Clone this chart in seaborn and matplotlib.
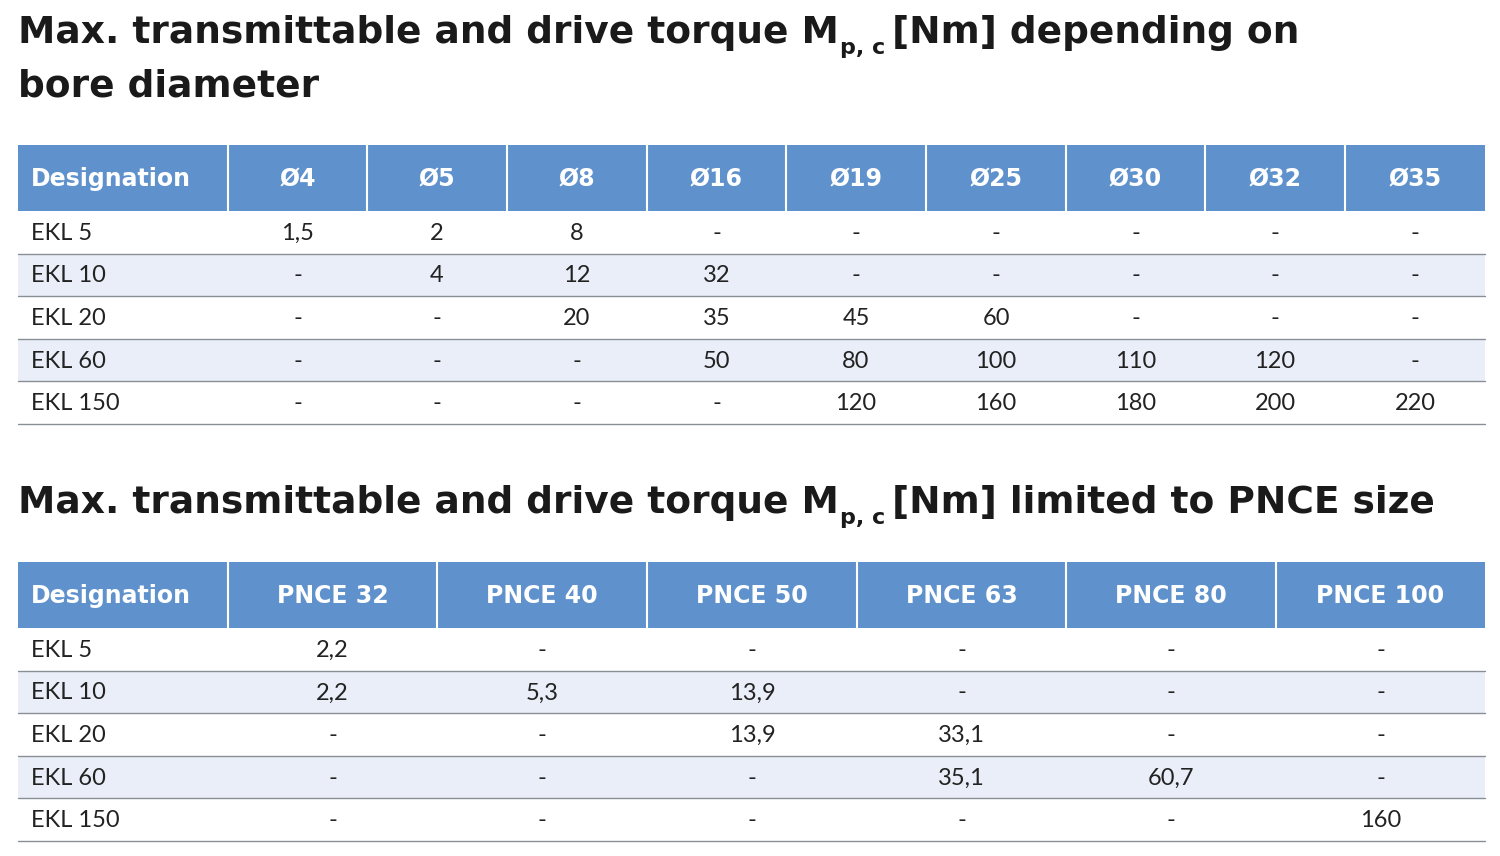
import matplotlib
matplotlib.use("Agg")
import matplotlib.pyplot as plt
import seaborn as sns
from matplotlib.patches import Rectangle

# --- data ---
rows = ["EKL 5", "EKL 10", "EKL 20", "EKL 60", "EKL 150"]
bores = ["Ø4", "Ø5", "Ø8", "Ø16", "Ø19", "Ø25", "Ø30", "Ø32", "Ø35"]
torque_bore = [
    ["1,5", "2", "8", "-", "-", "-", "-", "-", "-"],
    ["-", "4", "12", "32", "-", "-", "-", "-", "-"],
    ["-", "-", "20", "35", "45", "60", "-", "-", "-"],
    ["-", "-", "-", "50", "80", "100", "110", "120", "-"],
    ["-", "-", "-", "-", "120", "160", "180", "200", "220"],
]
sizes = ["PNCE 32", "PNCE 40", "PNCE 50", "PNCE 63", "PNCE 80", "PNCE 100"]
torque_size = [
    ["2,2", "-", "-", "-", "-", "-"],
    ["2,2", "5,3", "13,9", "-", "-", "-"],
    ["-", "-", "13,9", "33,1", "-", "-"],
    ["-", "-", "-", "35,1", "60,7", "-"],
    ["-", "-", "-", "-", "-", "160"],
]

HEAD = "#5f92cc"
STRIPE = "#e9eef8"
LINE = "#8a8f96"
TXT = "#222222"
BOLD = ['DejaVu Sans']

sns.set_style("white")
plt.rcParams['font.family'] = ['Lato', 'DejaVu Sans']

fig = plt.figure(figsize=(15, 8.56), dpi=100)
ax = fig.add_axes([0, 0, 1, 1])
ax.set_xlim(0, 1500)
ax.set_ylim(856, 0)
ax.axis("off")
renderer = fig.canvas.get_renderer()


def title(y, before, after):
    t = ax.text(18, y, before, fontsize=27, fontweight="bold", family=BOLD,
                va="center", color="#1a1a1a")
    x = t.get_window_extent(renderer).x1 + 1
    s = ax.text(x, y + 15, "p, c", fontsize=16, fontweight="bold", family=BOLD,
                va="center", color="#1a1a1a")
    x = s.get_window_extent(renderer).x1 + 7
    ax.text(x, y, after, fontsize=27, fontweight="bold", family=BOLD,
            va="center", color="#1a1a1a")


def table(top, edges, headers, data):
    head_h, row_h = 66, 42.6
    x0, x1 = edges[0], edges[-1]
    ax.add_patch(Rectangle((x0, top), x1 - x0, head_h, color=HEAD, lw=0))
    for e in edges[1:-1]:
        ax.plot([e, e], [top, top + head_h], color="white", lw=1.5)
    cols = ["Designation"] + headers
    for i, h in enumerate(cols):
        if i == 0:
            ax.text(x0 + 13, top + head_h / 2 + 1, h, color="white", fontsize=17,
                    fontweight="bold", family=BOLD, va="center")
        else:
            ax.text((edges[i] + edges[i + 1]) / 2, top + head_h / 2 + 1, h, color="white",
                    fontsize=17, fontweight="bold", family=BOLD, va="center", ha="center")
    for r, (name, vals) in enumerate(zip(rows, data)):
        y = top + head_h + r * row_h
        if r % 2 == 1:
            ax.add_patch(Rectangle((x0, y), x1 - x0, row_h, color=STRIPE, lw=0))
        ax.plot([x0, x1], [y + row_h, y + row_h], color=LINE, lw=1)
        cy = y + row_h / 2 + 1
        ax.text(x0 + 13, cy, name, fontsize=17, va="center", color=TXT)
        for c, v in enumerate(vals):
            ax.text((edges[c + 1] + edges[c + 2]) / 2, cy, v, fontsize=17,
                    va="center", ha="center", color=TXT)


title(33, "Max. transmittable and drive torque M", "[Nm] depending on")
ax.text(18, 86, "bore diameter", fontsize=27, fontweight="bold", family=BOLD,
        va="center", color="#1a1a1a")
table(145, [18, 228, 367, 507, 647, 786, 926, 1066, 1205, 1345, 1485], bores, torque_bore)

title(503, "Max. transmittable and drive torque M", "[Nm] limited to PNCE size")
table(562, [18, 228, 437, 647, 857, 1066, 1276, 1485], sizes, torque_size)

fig.savefig("out.png", dpi=100)
